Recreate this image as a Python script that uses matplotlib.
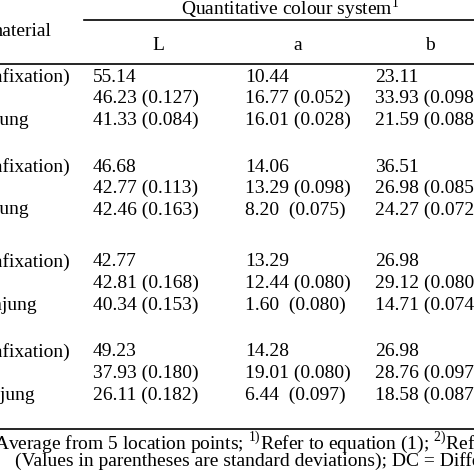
import matplotlib
matplotlib.use("Agg")
import matplotlib.pyplot as plt

plt.rcParams['font.family'] = ['Liberation Serif', 'DejaVu Serif']
plt.rcParams['mathtext.fontset'] = 'custom'
plt.rcParams['mathtext.rm'] = 'Liberation Serif'

row_labels = ["(Ranafixation)", "", "Tanjung"] * 4
L_vals = ["55.14", "46.23 (0.127)", "41.33 (0.084)",
          "46.68", "42.77 (0.113)", "42.46 (0.163)",
          "42.77", "42.81 (0.168)", "40.34 (0.153)",
          "49.23", "37.93 (0.180)", "26.11 (0.182)"]
a_vals = ["10.44", "16.77 (0.052)", "16.01 (0.028)",
          "14.06", "13.29 (0.098)", "8.20  (0.075)",
          "13.29", "12.44 (0.080)", "1.60  (0.080)",
          "14.28", "19.01 (0.080)", "6.44  (0.097)"]
b_vals = ["23.11", "33.93 (0.098)", "21.59 (0.088)",
          "36.51", "26.98 (0.085)", "24.27 (0.072)",
          "26.98", "29.12 (0.080)", "14.71 (0.074)",
          "26.98", "28.76 (0.097)", "18.58 (0.087)"]
col_heads = ["L", "a", "b"]

W = H = 474
fig = plt.figure(figsize=(4.74, 4.74), dpi=100)
ax = fig.add_axes([0, 0, 1, 1])
ax.set_xlim(0, W); ax.set_ylim(H, 0); ax.axis('off')
fs = 14

ax.text(290, 9, "Quantitative colour system$^{1}$", fontsize=fs, ha='center', va='center')
ax.plot([84, 474], [20, 20], color='black', lw=1.2)
ax.text(52, 31, "material", fontsize=fs, ha='right', va='center')
for x, h in zip([158, 298, 430], col_heads):
    ax.text(x, 45, h, fontsize=fs, ha='center', va='center')
ax.plot([0, 474], [64, 64], color='black', lw=1.2)

group_y = [77, 167, 262, 352]
label_end = [70, 70, 70, 70]
tj_end = [29, 29, 37, 35]
for i in range(12):
    g, r = divmod(i, 3)
    y = group_y[g] + r * 21.5
    if row_labels[i]:
        xe = label_end[g] if r == 0 else tj_end[g]
        ax.text(xe, y, row_labels[i], fontsize=fs, ha='right', va='center')
    ax.text(93, y, L_vals[i], fontsize=fs, ha='left', va='center')
    ax.text(245, y, a_vals[i], fontsize=fs, ha='left', va='center')
    ax.text(375, y, b_vals[i], fontsize=fs, ha='left', va='center')

ax.plot([0, 474], [429, 429], color='black', lw=1.2)
ax.text(-6, 442, "Average from 5 location points; $^{1)}$Refer to equation (1); $^{2)}$Refer to equation (2)",
        fontsize=fs, ha='left', va='center')
ax.text(15, 461, "(Values in parentheses are standard deviations); DC = Difference",
        fontsize=fs, ha='left', va='center')

fig.savefig("out.png", dpi=100)
